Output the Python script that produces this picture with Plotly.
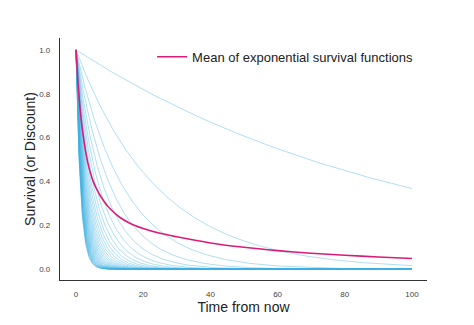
import numpy as np
import plotly.graph_objects as go

# Hazard rates of the individual exponential survival curves
rates = [0.010, 0.041, 0.070, 0.095, 0.119, 0.142, 0.164, 0.186, 0.207,
         0.228, 0.249, 0.270, 0.291, 0.312, 0.333, 0.354, 0.375, 0.396,
         0.417, 0.438, 0.459, 0.480, 0.501, 0.522, 0.543, 0.564, 0.585,
         0.606, 0.627, 0.648, 0.669, 0.690, 0.711, 0.732, 0.750]

# Mean survival curve
mean_t = [0, 0.5, 1, 1.5, 2, 3, 4, 5, 6, 8, 10, 13, 16, 20, 25, 30, 40, 50, 60, 70, 80, 90, 100]
mean_v = [1.0, 0.87, 0.77, 0.69, 0.625, 0.525, 0.455, 0.405, 0.37, 0.317, 0.278, 0.237, 0.21,
          0.186, 0.164, 0.148, 0.12, 0.10, 0.085, 0.073, 0.064, 0.056, 0.049]

x_ticks = [0, 20, 40, 60, 80, 100]
y_ticks = [0.0, 0.2, 0.4, 0.6, 0.8, 1.0]

t = np.linspace(0, 100, 801)

fig = go.Figure()
for r in rates:
    fig.add_trace(go.Scatter(x=t, y=np.exp(-r * t), mode="lines",
                             line=dict(color="rgba(60,175,225,0.45)", width=0.9),
                             showlegend=False, hoverinfo="skip"))

fig.add_trace(go.Scatter(x=mean_t, y=mean_v, mode="lines",
                         line=dict(color="rgb(218,28,120)", width=1.6, shape="spline", smoothing=0.8),
                         name="Mean of exponential survival functions"))

axis_font = dict(family="Liberation Sans, Arial, sans-serif", size=8, color="#444444")
fig.update_layout(
    width=474, height=325,
    margin=dict(l=60, r=47, t=38, b=41),
    paper_bgcolor="white", plot_bgcolor="white",
    font=dict(family="Liberation Sans, Arial, sans-serif", color="#222222"),
    legend=dict(x=0.251, y=0.984, xanchor="left", yanchor="top",
                font=dict(size=13, color="#222222"), bgcolor="rgba(0,0,0,0)"),
    xaxis=dict(range=[-4.76, 104.46], tickvals=x_ticks, ticktext=[str(v) for v in x_ticks],
               showgrid=False, zeroline=False, showline=True, linecolor="#333333", linewidth=1.3,
               ticks="", tickfont=axis_font, ticklabelstandoff=6,
               title=dict(text="Time from now", font=dict(size=14, color="#222222"), standoff=4)),
    yaxis=dict(range=[-0.049, 1.054], tickvals=y_ticks, ticktext=[f"{v:.1f}" for v in y_ticks],
               showgrid=False, zeroline=False, showline=True, linecolor="#333333", linewidth=1.3,
               ticks="", tickfont=axis_font, ticklabelstandoff=7,
               title=dict(text="Survival (or Discount)", font=dict(size=14, color="#222222"), standoff=0)),
)

fig.write_html("out.html")
